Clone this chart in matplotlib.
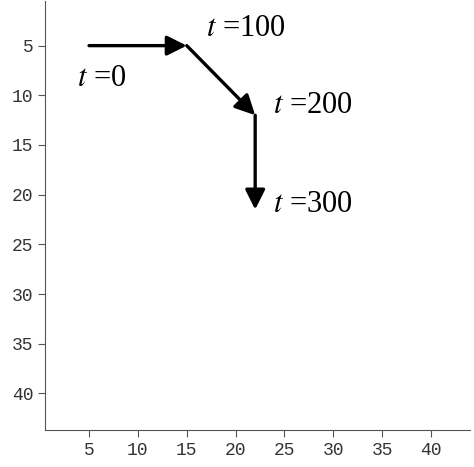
import matplotlib
matplotlib.use("Agg")
import matplotlib.pyplot as plt

points_x = [5, 15, 22, 22]
points_y = [5, 5, 12, 21.5]
labels = ["0", "100", "200", "300"]
label_x = [3.8, 17, 23.8, 23.8]
label_y = [8.3, 3.3, 11, 21]
ticks = [5, 10, 15, 20, 25, 30, 35, 40]

fig = plt.figure(figsize=(4.74, 4.67), dpi=100)
ax = fig.add_axes([0.095, 0.079, 0.897, 0.919])
ax.set_xlim(0.5, 44)
ax.set_ylim(43.7, 0.5)
for s in ["top", "right"]:
    ax.spines[s].set_visible(False)
for s in ["left", "bottom"]:
    ax.spines[s].set_color("#555555")
ax.set_xticks(ticks)
ax.set_yticks(ticks)
ax.tick_params(colors="#555555", labelsize=13, length=5)
for lab in ax.get_xticklabels() + ax.get_yticklabels():
    lab.set_family("Liberation Mono")
    lab.set_color("#333333")

for i in range(len(points_x) - 1):
    ax.annotate("", xy=(points_x[i+1], points_y[i+1]), xytext=(points_x[i], points_y[i]),
                arrowprops=dict(arrowstyle="-|>,head_length=1.2,head_width=0.6", lw=2.4, color="black",
                                shrinkA=0, shrinkB=0))
for x, y, l in zip(label_x, label_y, labels):
    ax.text(x, y, r"$t$ =" + l, fontsize=22, family="Liberation Serif", va="center", ha="left",
            math_fontfamily="stix")

fig.savefig("out.png", dpi=100)
